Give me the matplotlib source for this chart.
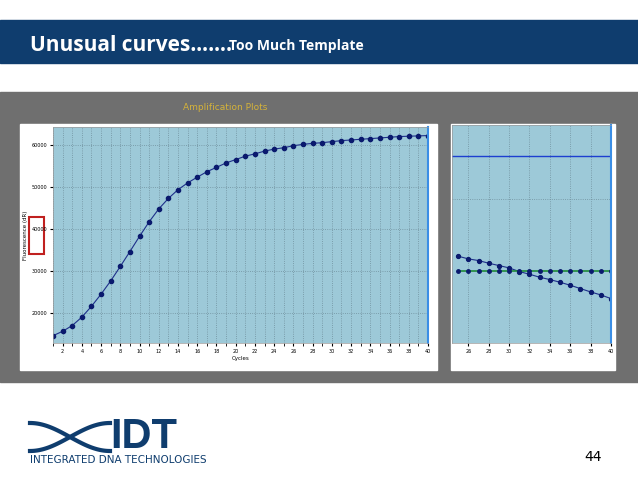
import matplotlib
matplotlib.use("Agg")
import matplotlib.pyplot as plt
import numpy as np
from matplotlib.patches import Rectangle

cycles = list(range(1, 41))
fluor = [14540, 15590, 16960, 18970, 21550, 24450, 27600, 31060, 34610, 38240,
         41700, 44770, 47270, 49360, 50970, 52340, 53630, 54680, 55730, 56530,
         57340, 57900, 58550, 59030, 59360, 59840, 60160, 60400, 60560, 60810,
         61050, 61210, 61370, 61530, 61690, 61850, 62020, 62100, 62180, 62260]
zoom_cycles = list(range(25, 41))
zoom_desc = [262, 254, 249, 241, 234, 227, 216, 208, 199, 192, 184, 175, 165, 155, 146, 135]
zoom_green = [217] * 16
zoom_blue_level = 562
xticks_main = list(range(2, 41, 2))
yticks_main = [20000, 30000, 40000, 50000, 60000]
xticks_zoom = list(range(26, 41, 2))

W, H = 638, 478
fig = plt.figure(figsize=(W/100, H/100), dpi=100)
fig.patch.set_facecolor("white")
bg = fig.add_axes([0, 0, 1, 1]); bg.set_xlim(0, W); bg.set_ylim(H, 0); bg.axis("off")
bg.add_patch(Rectangle((0, 20), W, 43, color="#0f3d6e"))
bg.text(30, 45, "Unusual curves…….", color="white", fontsize=15, fontweight="bold", va="center", family="Open Sans")
bg.text(229, 46, "Too Much Template", color="white", fontsize=10, fontweight="bold", va="center", family="Open Sans")
bg.add_patch(Rectangle((0, 92), W, 290, color="#6f6f6f"))
bg.text(225, 107, "Amplification Plots", color="#d4b23a", fontsize=6.5, ha="center", va="center")
bg.add_patch(Rectangle((20, 124), 417, 246, color="white"))
bg.add_patch(Rectangle((451, 124), 164, 246, color="white"))
bg.add_patch(Rectangle((29, 217), 15, 37, fill=False, ec="#c0201f", lw=1.5))
# logo
t = np.linspace(0, 1, 100)
bg.plot(30 + 80*t, 437 + 14*np.cos(np.pi*t), color="#0f3d6e", lw=3)
bg.plot(30 + 80*t, 437 - 14*np.cos(np.pi*t), color="#0f3d6e", lw=3)
bg.text(110, 437, "IDT", color="#0f3d6e", fontsize=30, fontweight="bold", va="center", family="Liberation Sans")
bg.text(30, 460, "INTEGRATED DNA TECHNOLOGIES", color="#0f3d6e", fontsize=7.5, va="center")
bg.text(593, 457, "44", fontsize=10, ha="center", va="center")

def px(x0, y0, x1, y1):
    return [x0/W, 1-y1/H, (x1-x0)/W, (y1-y0)/H]

face = "#9dc9d8"
ax = fig.add_axes(px(53, 127, 428, 343))
ax.set_facecolor(face)
ax.plot(cycles, fluor, color="#1e2f8a", lw=0.8, marker="o", ms=3, mfc="#0a1a6e", mec="#0a1a6e")
ax.set_xlim(1, 40); ax.set_ylim(12800, 64300)
ax.set_xticks(xticks_main); ax.set_yticks(yticks_main)
ax.set_xticks(cycles, minor=True)
ax.tick_params(labelsize=3.5, length=2, pad=2)
ax.grid(True, which="both", color="#6f8f9c", ls=":", lw=0.6)
ax.set_xlabel("Cycles", fontsize=4, labelpad=2)
ax.set_ylabel("Fluorescence (dR)", fontsize=4, labelpad=3)
for s in ax.spines.values(): s.set_color("#999999"); s.set_linewidth(0.5)
ax.spines["right"].set_color("#3a8ee6"); ax.spines["right"].set_linewidth(1.5)

az = fig.add_axes(px(452, 125, 611, 343))
az.set_facecolor(face)
az.axhline(zoom_blue_level, color="#1d3fd0", lw=1)
az.plot(zoom_cycles, zoom_desc, color="#1e2f8a", lw=0.8, marker="o", ms=2.8, mfc="#0a1a6e", mec="#0a1a6e")
az.plot(zoom_cycles, zoom_green, color="#1f8a3a", lw=1.2, marker="o", ms=2.5, mfc="#0a1a6e", mec="#0a1a6e")
az.set_xlim(24.4, 40); az.set_ylim(2, 655)
az.set_xticks(xticks_zoom); az.set_yticks([432])
az.set_yticklabels([])
az.tick_params(labelsize=3.5, length=2, pad=2, left=False)
az.grid(True, color="#6f8f9c", ls=":", lw=0.6)
for s in az.spines.values(): s.set_color("#999999"); s.set_linewidth(0.5)
az.spines["right"].set_color("#3a8ee6"); az.spines["right"].set_linewidth(1.5)

fig.savefig("out.png", dpi=100)
